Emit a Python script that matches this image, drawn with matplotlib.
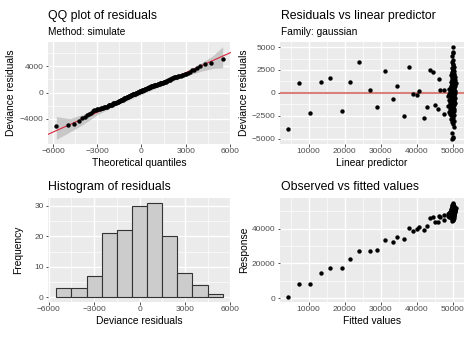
import numpy as np
import matplotlib
matplotlib.use("Agg")
import matplotlib.pyplot as plt
from matplotlib.ticker import MultipleLocator, FixedLocator
from statistics import NormalDist

plt.rcParams['font.family'] = ['Liberation Sans', 'DejaVu Sans']

### Data
# points away from the big cluster (fitted, deviance residual)
fit_spread = [4380, 7280, 10470, 13470, 15900, 19180, 21430, 23960, 26960, 29020,
              31080, 33330, 34540, 36510, 37730, 38950, 40160, 40730, 42130, 42970,
              43540, 44470, 44940, 45970, 46070, 46440, 47470, 47570]
res_spread = [-3915, 1030, -2170, 1140, 1570, -1960, 1140, 3345, 320, -1530,
              2350, -680, 710, -2490, 2850, -180, -210, 250, -2700, -1530,
              2450, 2280, -1280, -1820, 1460, 320, 320, -2310]

# cluster near fitted ~ 50000
fit_cluster = [49850, 50120, 49970,
               49780, 50210,
               49930, 49690, 50300, 49540, 50050, 49880,
               49620, 50390, 49350, 50110, 49790, 48860, 50240, 49510, 49980, 50470,
               49160, 49890, 50080, 49440,
               49720, 50160, 48710, 49960, 50330, 49580, 49270, 50020, 50510, 49830,
               49090, 50270, 49660, 50400, 48950, 49910, 50130, 49480, 50600, 49750,
               50050, 49390, 50240, 49800, 48640, 50460, 49940, 50150, 49560, 50330,
               49020, 49870, 50580, 49700, 50190, 49310, 50010, 50720, 49630, 49980,
               50370, 48900, 50090, 49750,
               50260, 49840, 50470, 49590, 50110, 49980, 50640, 49420, 50200, 49770,
               50350, 49890, 50550, 49650, 50060, 50790, 49510, 50280, 49930, 50420,
               49710, 50170, 50680, 49860, 50030, 50310,
               49960, 50390, 49680, 50150, 50520, 49820, 50250, 49570, 50070, 50440,
               49890, 50190, 49740, 50330, 50010, 49920,
               50110, 49860, 50270, 49940, 50060, 49830,
               50180, 49910, 50020, 49970,
               49990]
res_cluster = [-5090, -4975, -4830,
               -4390, -3710,
               -3430, -3240, -3080, -2860, -2720, -2570,
               -2470, -2410, -2320, -2270, -2160, -2130, -2010, -1960, -1870, -1820,
               -1730, -1650, -1610, -1540,
               -1490, -1420, -1390, -1310, -1280, -1210, -1170, -1090, -1070, -1000,
               -970, -900, -870, -790, -770, -710, -660, -640, -570, -520,
               -480, -460, -400, -380, -320, -280, -260, -190, -180, -120,
               -80, -60, 0, 40, 60, 120, 140, 200, 220, 290,
               300, 370, 420, 470,
               520, 540, 600, 620, 690, 700, 760, 780, 850, 860,
               920, 940, 1000, 1020, 1080, 1100, 1160, 1180, 1240, 1260,
               1300, 1360, 1380, 1420, 1450, 1490,
               1520, 1600, 1640, 1720, 1760, 1840, 1900, 1940, 2030, 2060,
               2150, 2200, 2290, 2340, 2430, 2470,
               2580, 2690, 2860, 3010, 3170, 3420,
               3640, 3980, 4310, 4460,
               5050]

fitted = np.array(fit_spread + fit_cluster, dtype=float)
resid = np.array(res_spread + res_cluster, dtype=float)
response = fitted + resid

# QQ reference band (simulated)
band_x = [-5773, -4860, -4000, -3000, -2000, 0, 2000, 3000, 4000, 4860, 5513]
band_lo = [-7100, -6000, -4900, -3380, -2250, -300, 1600, 2450, 3200, 3650, 3750]
band_hi = [-3650, -3950, -3350, -2600, -1780, 150, 2100, 3150, 4400, 5600, 6950]
qq_mean, qq_sd = -130, 2080
ref_intercept, ref_slope = 0, 1.0

hist_edges = np.arange(-5500, 5501, 1000)

### Styling helpers
W, H = 474, 338
BG = '#EBEBEB'
TICKC = '#4D4D4D'
PT = 10  # marker area

fig = plt.figure(figsize=(W / 100, H / 100), dpi=100)


def px_axes(l, t, r, b):
    return fig.add_axes([l / W, 1 - b / H, (r - l) / W, (b - t) / H])


def expand(lo, hi, mult=0.05):
    d = (hi - lo) * mult
    return lo - d, hi + d


def style(ax, xmaj, xmin, ymaj, ymin):
    ax.set_facecolor(BG)
    for s in ax.spines.values():
        s.set_visible(False)
    ax.xaxis.set_major_locator(xmaj)
    ax.xaxis.set_minor_locator(xmin)
    ax.yaxis.set_major_locator(ymaj)
    ax.yaxis.set_minor_locator(ymin)
    ax.grid(which='major', color='white', lw=0.95)
    ax.grid(which='minor', color='white', lw=0.45)
    ax.set_axisbelow(True)
    ax.tick_params(which='major', length=1.8, width=0.6, color='#333333',
                   labelsize=6.0, labelcolor=TICKC, pad=1.4)
    ax.tick_params(which='minor', length=0)


def titles(x, title, sub, y_title, y_sub=None):
    fig.text(x / W, 1 - y_title / H, title, fontsize=8.8, va='baseline', ha='left')
    if sub:
        fig.text(x / W, 1 - y_sub / H, sub, fontsize=7.3, va='baseline', ha='left')


### Panel 1: QQ plot
ax1 = px_axes(48, 42, 231, 144)
n = len(resid)
nd = NormalDist(qq_mean, qq_sd)
theo = np.array([nd.inv_cdf((i + 0.5) / n) for i in range(n)])
ax1.fill_between(band_x, band_lo, band_hi, color='#BEBEBE', alpha=0.8, lw=0, zorder=2)
xl1 = expand(min(theo), max(theo))
ax1.plot(xl1, [ref_intercept + ref_slope * v for v in xl1], color='#D7263D', lw=0.8, zorder=3)
ax1.scatter(theo, np.sort(resid), s=PT, color='black', lw=0, zorder=4)
ax1.set_xlim(xl1)
ax1.set_ylim(expand(min(band_lo), max(band_hi)))
style(ax1, FixedLocator([-6000, -3000, 0, 3000, 6000]), FixedLocator([-4500, -1500, 1500, 4500]),
      FixedLocator([-4000, 0, 4000]), FixedLocator([-6000, -2000, 2000, 6000]))
ax1.set_xlabel('Theoretical quantiles', fontsize=7.4, labelpad=1.5)
ax1.set_ylabel('Deviance residuals', fontsize=7.4, labelpad=3)
titles(48, 'QQ plot of residuals', 'Method: simulate', 19, 35)

### Panel 2: residuals vs linear predictor
ax2 = px_axes(280, 42, 464, 144)
ax2.axhline(0, color='#D9807A', lw=1.5, zorder=2)
ax2.scatter(fitted, resid, s=PT, color='black', lw=0, zorder=3)
ax2.set_xlim(expand(fitted.min(), fitted.max()))
ax2.set_ylim(expand(resid.min(), resid.max()))
style(ax2, MultipleLocator(10000), MultipleLocator(5000),
      MultipleLocator(2500), MultipleLocator(1250))
ax2.set_xlabel('Linear predictor', fontsize=7.4, labelpad=1.5)
ax2.set_ylabel('Deviance residuals', fontsize=7.4, labelpad=2)
titles(281, 'Residuals vs linear predictor', 'Family: gaussian', 19, 35)

### Panel 3: histogram
ax3 = px_axes(48, 198, 231, 302)
counts, _, _ = ax3.hist(resid, bins=hist_edges, facecolor='#CCCCCC', edgecolor='#333333',
                        lw=0.8, zorder=2)
ax3.set_xlim(expand(hist_edges[0], hist_edges[-1]))
ax3.set_ylim(expand(0, counts.max()))
style(ax3, FixedLocator([-6000, -3000, 0, 3000, 6000]), FixedLocator([-4500, -1500, 1500, 4500]),
      MultipleLocator(10), MultipleLocator(5))
ax3.set_xlabel('Deviance residuals', fontsize=7.4, labelpad=1.5)
ax3.set_ylabel('Frequency', fontsize=7.4, labelpad=8)
titles(48, 'Histogram of residuals', None, 190)

### Panel 4: observed vs fitted
ax4 = px_axes(280, 198, 464, 302)
ax4.scatter(fitted, response, s=PT, color='black', lw=0, zorder=3)
ax4.set_xlim(expand(fitted.min(), fitted.max()))
ax4.set_ylim(expand(response.min(), response.max()))
style(ax4, MultipleLocator(10000), MultipleLocator(5000),
      MultipleLocator(20000), MultipleLocator(10000))
ax4.set_xlabel('Fitted values', fontsize=7.4, labelpad=1.5)
ax4.set_ylabel('Response', fontsize=7.4, labelpad=2)
titles(281, 'Observed vs fitted values', None, 190)

fig.savefig('out.png', dpi=100)
